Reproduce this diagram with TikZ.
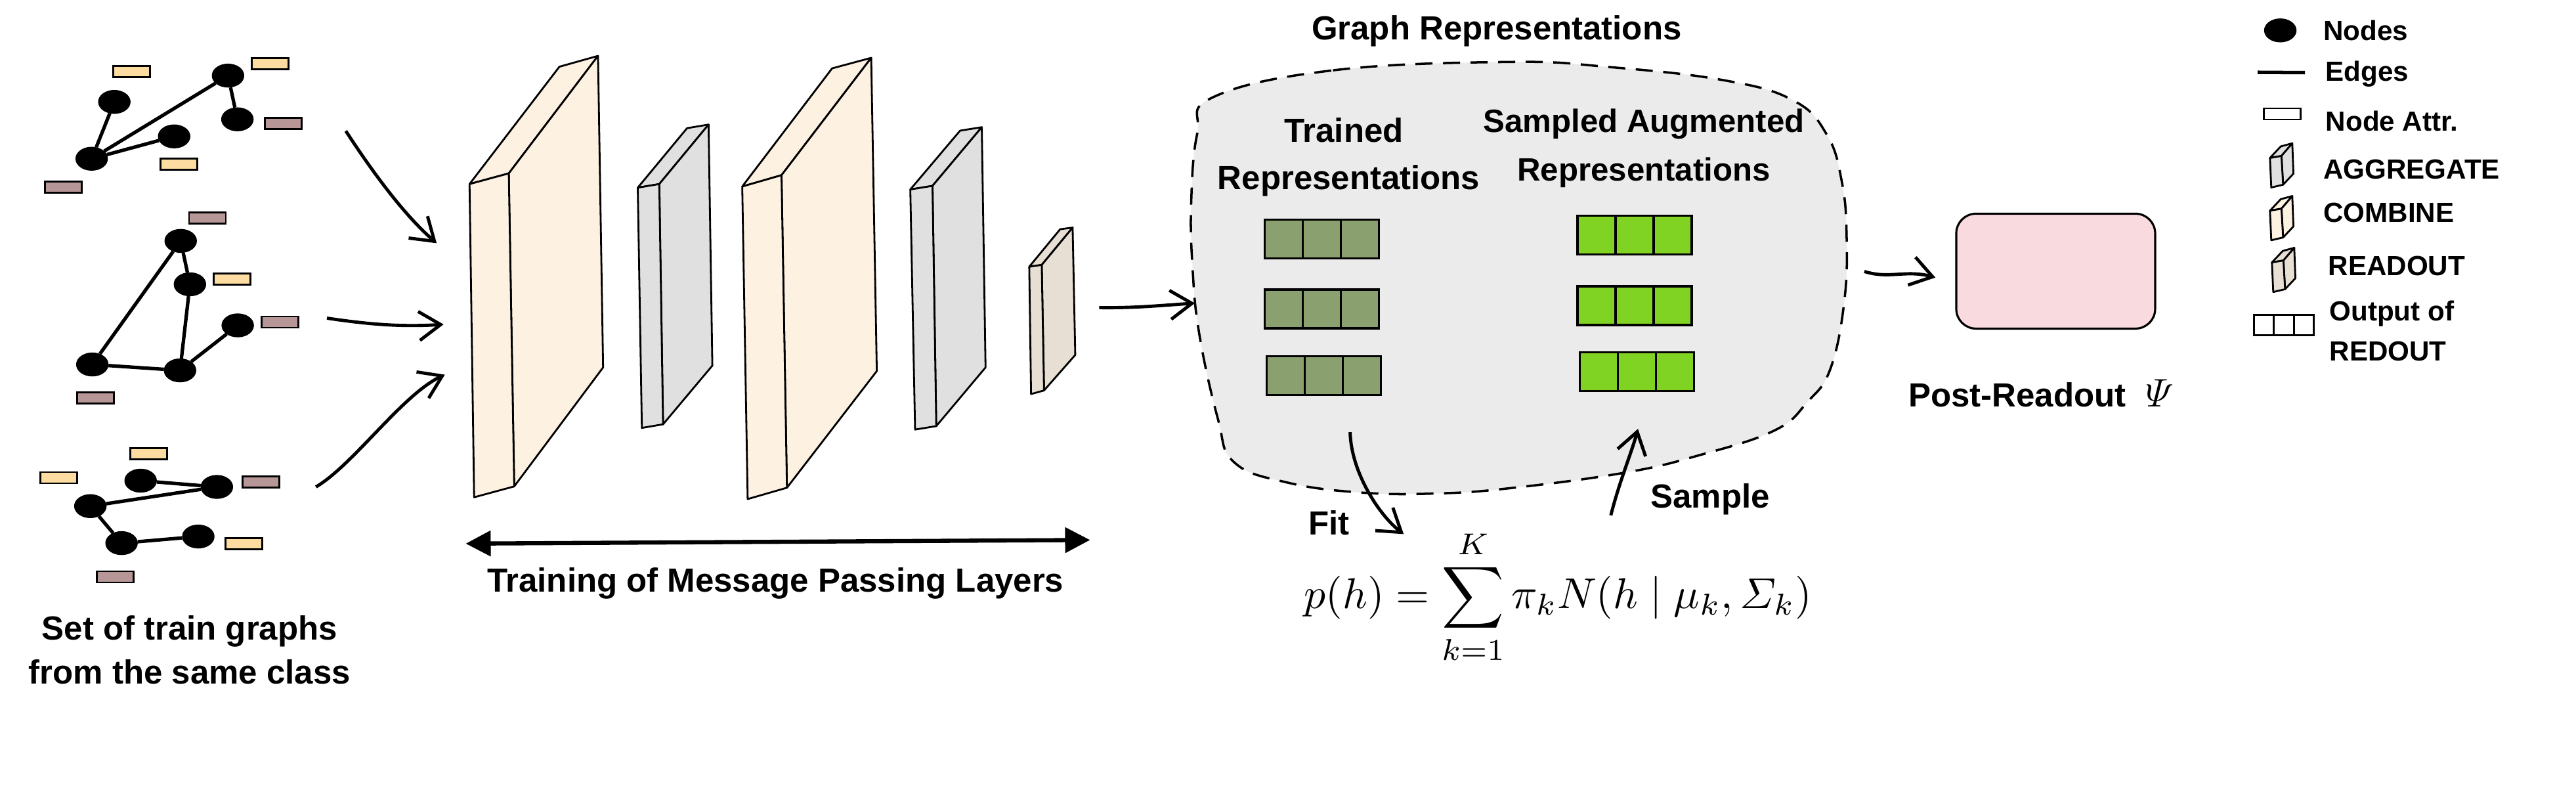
\documentclass[tikz,border=0pt]{standalone}
\usepackage{fontspec}
\setmainfont{Liberation Sans}
\usepackage{amsmath}
\usepackage{graphicx}
\usetikzlibrary{shapes.geometric,arrows.meta,calc}
\definecolor{attrY}{RGB}{252,220,160}
\definecolor{attrB}{RGB}{182,150,150}
\definecolor{combC}{RGB}{253,242,226}
\definecolor{aggC}{RGB}{224,224,224}
\definecolor{readC}{RGB}{231,222,212}
\definecolor{trainG}{RGB}{138,160,110}
\definecolor{sampG}{RGB}{128,211,35}
\definecolor{blobC}{RGB}{235,235,235}
\definecolor{postC}{RGB}{249,218,223}
\newcommand{\mycuboid}[8]{%
  \filldraw[layerln,fill=#8] #1 -- #3 -- #4 -- #2 -- cycle;
  \filldraw[layerln,fill=#8] #2 -- #4 -- #5 -- #6 -- cycle;
  \filldraw[layerln,fill=#8] #1 -- #2 -- #6 -- #7 -- cycle;
}
\begin{document}
\begin{tikzpicture}[x=0.25026mm,y=-0.25026mm,
  gnode/.style={ellipse,fill=black,draw=black,minimum width=4.8mm,minimum height=3.5mm,inner sep=0pt},
  edgeln/.style={line width=1.5pt},
  attr/.style={draw=black,line width=0.8pt,minimum width=5.6mm,minimum height=1.7mm,inner sep=0pt,fill=#1},
  layerln/.style={draw=black,line width=0.8pt,line join=round},
  arr/.style={line width=1.4pt,-{Straight Barb[length=3.3mm,width=4.4mm]}},
  dbl/.style={line width=1.8pt,{Triangle[length=3.8mm,width=3.8mm]}-{Triangle[length=3.8mm,width=3.8mm]}},
  vecbox/.style={draw=black,line width=0.9pt,fill=#1,minimum width=17.4mm,minimum height=5.9mm,inner sep=0pt,
    path picture={\draw[line width=0.9pt]
      ($(path picture bounding box.north west)!1/3!(path picture bounding box.north east)$) --
      ($(path picture bounding box.south west)!1/3!(path picture bounding box.south east)$)
      ($(path picture bounding box.north west)!2/3!(path picture bounding box.north east)$) --
      ($(path picture bounding box.south west)!2/3!(path picture bounding box.south east)$);}},
  lbl/.style={font=\fontsize{14.5}{17.4}\selectfont\bfseries,inner sep=0pt},
  leg/.style={font=\fontsize{12}{14}\selectfont\bfseries,inner sep=0pt,anchor=base west},
  blob/.style={fill=blobC,draw=black,line width=1pt,dash pattern=on 2.6mm off 1.6mm}
]
\useasboundingbox (0,0) rectangle (1568,478);

% ---------- graph 1 ----------
\node[attr=attrY] (t1y1) at (80,43.6) {};
\node[attr=attrY] (t1y2) at (164.5,38.7) {};
\node[attr=attrB] (t1b1) at (172.5,75) {};
\node[attr=attrY] (t1y3) at (109,100) {};
\node[attr=attrB] (t1b2) at (38.5,114) {};
\node[gnode] (g1a) at (69.6,62) {};
\node[gnode] (g1b) at (138.8,46) {};
\node[gnode] (g1c) at (144.5,72.6) {};
\node[gnode] (g1d) at (106,83) {};
\node[gnode] (g1e) at (55.8,96.6) {};
\draw[edgeln] (g1e) -- (g1a);
\draw[edgeln] (g1e) -- (g1b);
\draw[edgeln] (g1e) -- (g1d);
\draw[edgeln] (g1b) -- (g1c);

% ---------- graph 2 ----------
\node[attr=attrB] (t2b1) at (126.3,132.7) {};
\node[attr=attrY] (t2y1) at (141.3,169.7) {};
\node[attr=attrB] (t2b2) at (170.4,196) {};
\node[attr=attrB] (t2b3) at (58.3,242) {};
\node[gnode] (g2a) at (110,146.6) {};
\node[gnode] (g2b) at (115.6,173) {};
\node[gnode] (g2c) at (144.7,198) {};
\node[gnode] (g2d) at (56.2,221.8) {};
\node[gnode] (g2e) at (109.6,225.4) {};
\draw[edgeln] (g2a) -- (g2b);
\draw[edgeln] (g2a) -- (g2d);
\draw[edgeln] (g2b) -- (g2e);
\draw[edgeln] (g2d) -- (g2e);
\draw[edgeln] (g2e) -- (g2c);

% ---------- graph 3 ----------
\node[attr=attrY] (t3y1) at (90.6,276) {};
\node[attr=attrY] (t3y2) at (35.7,290.7) {};
\node[attr=attrB] (t3b1) at (158.7,293.3) {};
\node[attr=attrY] (t3y3) at (148.4,331) {};
\node[attr=attrB] (t3b2) at (70,351) {};
\node[gnode] (g3a) at (85.6,292.5) {};
\node[gnode] (g3b) at (132,296.3) {};
\node[gnode] (g3c) at (55,308) {};
\node[gnode] (g3d) at (74,330.5) {};
\node[gnode] (g3e) at (120.7,326.5) {};
\draw[edgeln] (g3a) -- (g3b);
\draw[edgeln] (g3c) -- (g3b);
\draw[edgeln] (g3c) -- (g3d);
\draw[edgeln] (g3d) -- (g3e);

\node[lbl,anchor=base] (settxt1) at (115.4,389.3) {Set of train graphs};
\node[lbl,anchor=base] (settxt2) at (115.4,416) {from the same class};

% ---------- arrows graphs -> layers ----------
\coordinate (a1s) at (210.5,79.7);  \coordinate (a1e) at (265.8,148);
\coordinate (a2s) at (199,193.6);   \coordinate (a2e) at (270,197.4);
\coordinate (a3s) at (192.3,296.3); \coordinate (a3e) at (270.8,228);
\draw[arr] (a1s) .. controls (225,102) and (245,130) .. (a1e);
\draw[arr] (a2s) .. controls (225,197.5) and (245,199) .. (a2e);
\draw[arr] (a3s) .. controls (215,283) and (245,240) .. (a3e);

% ---------- layers ----------
\mycuboid{(285.8,112)}{(309.7,105.5)}{(340.5,40.6)}{(364,34)}{(367.1,223.6)}{(313,296)}{(288.6,302.6)}{combC}
\mycuboid{(388.2,114.2)}{(401.3,112)}{(418.2,78)}{(431.3,75.8)}{(433.6,222.5)}{(403.6,258.2)}{(390.7,260.4)}{aggC}
\mycuboid{(451.8,113.5)}{(475.7,106.6)}{(506.5,41.6)}{(530.3,35.2)}{(533.7,225.8)}{(479,296.8)}{(455.1,303.7)}{combC}
\mycuboid{(554.1,115.3)}{(567.6,113.1)}{(584.4,79.5)}{(597.6,77.4)}{(599.9,223.6)}{(569.9,259.3)}{(557,261.4)}{aggC}
\mycuboid{(626.5,162.3)}{(634.1,161.2)}{(645.3,139.5)}{(652.9,138.5)}{(654.5,216)}{(635.5,237.6)}{(627.6,239.8)}{readC}

\coordinate (dl) at (283.5,330.8); \coordinate (dr) at (663.5,328.6);
\draw[dbl] (dl) -- (dr);
\node[lbl,anchor=base] (traintxt) at (472,360.3) {Training of Message Passing Layers};

% ---------- graph representations ----------
\node[lbl,anchor=base] (grtxt) at (911,24.1) {Graph Representations};
\draw[blob] plot[smooth cycle,tension=0.7] coordinates {(738.5,59.1) (811.4,42.8) (918,37.7) (979.6,40.8) (1049.7,48.9) (1091.7,61.2) (1112,82) (1121,110) (1124,142.7) (1122.6,183.5) (1114.2,224.3) (1100.2,244.6) (1080,262) (1034.4,277) (988.6,287.7) (919.8,297) (874,300.3) (828,299.7) (783.4,293.6) (751.2,281.3) (741.3,254.8) (730.1,203.9) (725.9,163.1) (725.1,122.3) (728.7,81.5)};

\coordinate (a4s) at (669.1,187.2); \coordinate (a4e) at (727.3,184.5);
\draw[arr] (a4s) .. controls (690,187.5) and (705,186) .. (a4e);

\node[lbl,anchor=base] (trtxt1) at (818,86.6) {Trained};
\node[lbl,anchor=base] (trtxt2) at (821,115.2) {Representations};
\node[lbl,anchor=base,font=\fontsize{14}{17}\selectfont\bfseries] (satxt1) at (1000.6,80.5) {Sampled Augmented};
\node[lbl,anchor=base,font=\fontsize{14}{17}\selectfont\bfseries] (satxt2) at (1000.6,110.1) {Representations};

\node[vecbox=trainG] (tv1) at (804.7,145.3) {};
\node[vecbox=trainG] (tv2) at (804.7,188) {};
\node[vecbox=trainG] (tv3) at (805.8,228.5) {};
\node[vecbox=sampG] (sv1) at (995,143.2) {};
\node[vecbox=sampG] (sv2) at (995,186) {};
\node[vecbox=sampG] (sv3) at (996.4,226.3) {};

% fit / sample
\coordinate (fs) at (821.8,263); \coordinate (fe) at (854.4,325);
\draw[arr] (fs) .. controls (822.5,288) and (840,314) .. (fe);
\node[lbl,anchor=base] (fittxt) at (809,325.6) {Fit};
\coordinate (ss) at (980.5,313.6); \coordinate (se) at (997,261);
\draw[arr] (ss) .. controls (986,292) and (993,276) .. (se);
\node[lbl,anchor=base] (samptxt) at (1041,309) {Sample};

\node[anchor=base west,inner sep=0pt] (eq) at (793.6,370.3)
  {\resizebox{77.3mm}{!}{$\displaystyle p(h) = \sum_{k=1}^{K} \pi_k N(h \mid \mu_k, \varSigma_k)$}};

% ---------- post readout ----------
\coordinate (a5s) at (1134.8,165.2); \coordinate (a5e) at (1178.1,168.9);
\draw[arr] (a5s) .. controls (1150,170) and (1160,164) .. (a5e);
\node[draw=black,line width=0.9pt,fill=postC,rounded corners=3mm,minimum width=30.3mm,minimum height=17.5mm] (post) at (1251.3,165) {};
\node[lbl,anchor=base west] (posttxt) at (1161.5,247.7) {Post-Readout\hspace{3mm}{\fontsize{16}{18}\selectfont$\varPsi$}};

% ---------- legend ----------
\node[gnode] (lgnode) at (1388,18.5) {};
\node[leg] (lgnodetxt) at (1414,24.4) {Nodes};
\coordinate (lge1) at (1374.2,44); \coordinate (lge2) at (1403,44.2);
\draw[edgeln] (lge1) -- (lge2);
\node[leg] (lgedgetxt) at (1415.4,49.5) {Edges};
\node[attr=white] (lgattr) at (1389.1,69.3) {};
\node[leg] (lgattrtxt) at (1415.4,79.8) {Node Attr.};
\mycuboid{(1381.7,96.1)}{(1388.7,94.9)}{(1388.3,89.1)}{(1395.3,87.2)}{(1396,105.7)}{(1389.7,112.4)}{(1382.5,114.1)}{aggC}
\node[leg] (lgaggtxt) at (1414,108.7) {AGGREGATE};
\begin{scope}[shift={(0,32.1)}]
\mycuboid{(1381.7,96.1)}{(1388.7,94.9)}{(1388.3,89.1)}{(1395.3,87.2)}{(1396,105.7)}{(1389.7,112.4)}{(1382.5,114.1)}{combC}
\end{scope}
\node[leg] (lgcombtxt) at (1414,135.3) {COMBINE};
\begin{scope}[shift={(1.2,63.6)}]
\mycuboid{(1381.7,96.1)}{(1388.7,94.9)}{(1388.3,89.1)}{(1395.3,87.2)}{(1396,105.7)}{(1389.7,112.4)}{(1382.5,114.1)}{readC}
\end{scope}
\node[leg] (lgreadtxt) at (1416.9,167.8) {READOUT};
\node[vecbox=white,minimum width=9.1mm,minimum height=3.1mm] (lgvec) at (1390.2,197.8) {};
\node[leg] (lgouttxt1) at (1417.7,195.1) {Output of};
\node[leg] (lgouttxt2) at (1417.7,219.5) {REDOUT};
\end{tikzpicture}
\end{document}
